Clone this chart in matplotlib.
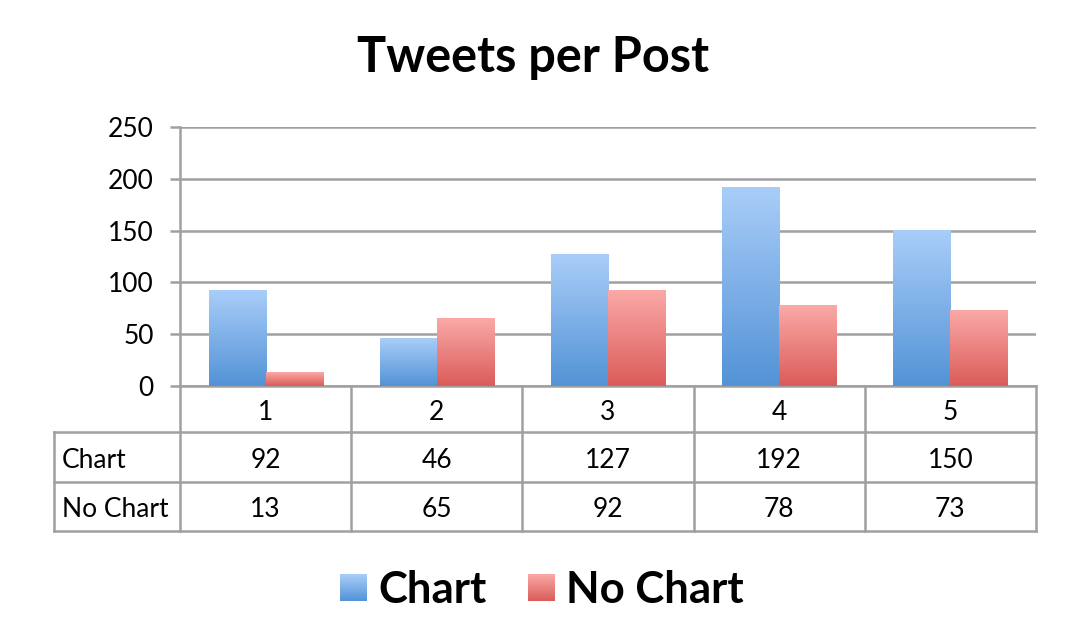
import matplotlib
matplotlib.use('Agg')
import matplotlib.pyplot as plt
import numpy as np
from matplotlib.transforms import blended_transform_factory
from matplotlib.colors import LinearSegmentedColormap

categories = ['1', '2', '3', '4', '5']
chart = [92, 46, 127, 192, 150]
no_chart = [13, 65, 92, 78, 73]
series_names = ['Chart', 'No Chart']

plt.rcParams['font.family'] = ['Lato', 'DejaVu Sans']

blue_map = LinearSegmentedColormap.from_list('b', ['#5393d6', '#a9cdf9'])
red_map = LinearSegmentedColormap.from_list('r', ['#db5c59', '#faa9a7'])

fig = plt.figure(figsize=(10.72, 6.44), dpi=100)
ax = fig.add_axes([180/1072, 1-386/644, 856/1072, 259/644])

x = np.arange(len(categories))
w = 1/3
grad = np.linspace(0, 1, 100).reshape(-1, 1)

bars1 = ax.bar(x - w/2, chart, w, color='none')
bars2 = ax.bar(x + w/2, no_chart, w, color='none')
for bars, cmap in [(bars1, blue_map), (bars2, red_map)]:
    for b in bars:
        x0, wd, h = b.get_x(), b.get_width(), b.get_height()
        ax.imshow(grad, cmap=cmap, origin='lower', aspect='auto',
                  extent=[x0, x0 + wd, 0, h], zorder=3)

ax.set_xlim(-0.5, 4.5)
ax.set_ylim(0, 250)
ax.set_yticks(range(0, 251, 50))
ax.set_xticks([])
ax.yaxis.grid(True, color='#a0a0a0', linewidth=1.8)
ax.set_axisbelow(True)
for s in ['top', 'right', 'bottom']:
    ax.spines[s].set_visible(False)
ax.spines['left'].set_color('#a0a0a0')
ax.spines['left'].set_linewidth(1.8)
ax.tick_params(axis='y', length=7, width=1.8, color='#a0a0a0', labelsize=19, pad=12)

fig.text(533/1072, 1-57/644, 'Tweets per Post', fontsize=35, fontweight='bold',
         ha='center', va='center')

# data table under the axis
tr = blended_transform_factory(ax.transData, ax.transAxes)
lc = '#a0a0a0'
lw = 1.8
y_head = -46/259
y_r1 = -96/259
y_r2 = -145/259
x_left = (54 - 180) / (856/5) - 0.5
kw = dict(transform=tr, color=lc, linewidth=lw, clip_on=False)
ax.plot([-0.5, 4.5], [0, 0], **kw)
ax.plot([x_left, 4.5], [y_head, y_head], **kw)
ax.plot([x_left, 4.5], [y_r1, y_r1], **kw)
ax.plot([x_left, 4.5], [y_r2, y_r2], **kw)
for xb in np.arange(-0.5, 4.6, 1):
    ax.plot([xb, xb], [0, y_r2], **kw)
ax.plot([x_left, x_left], [y_head, y_r2], **kw)

fs = 19
dy = -3/259
for i, c in enumerate(categories):
    ax.text(i, y_head/2 + dy, c, transform=tr, ha='center', va='center', fontsize=fs)
    ax.text(i, (y_head + y_r1)/2 + dy, str(chart[i]), transform=tr, ha='center', va='center', fontsize=fs)
    ax.text(i, (y_r1 + y_r2)/2 + dy, str(no_chart[i]), transform=tr, ha='center', va='center', fontsize=fs)
ax.text(x_left + 0.045, (y_head + y_r1)/2 + dy, series_names[0], transform=tr, ha='left', va='center', fontsize=fs)
ax.text(x_left + 0.045, (y_r1 + y_r2)/2 + dy, series_names[1], transform=tr, ha='left', va='center', fontsize=fs)

# legend with gradient squares
for px, name, cmap, tx in [(340, series_names[0], blue_map, 378), (528, series_names[1], red_map, 566)]:
    lax = fig.add_axes([px/1072, 1-601/644, 27/1072, 27/644])
    lax.imshow(grad, cmap=cmap, origin='lower', aspect='auto')
    lax.axis('off')
    fig.text(tx/1072, 1-590/644, name, fontsize=31.5, fontweight='bold', va='center', ha='left')

fig.savefig('out.png', dpi=100)
